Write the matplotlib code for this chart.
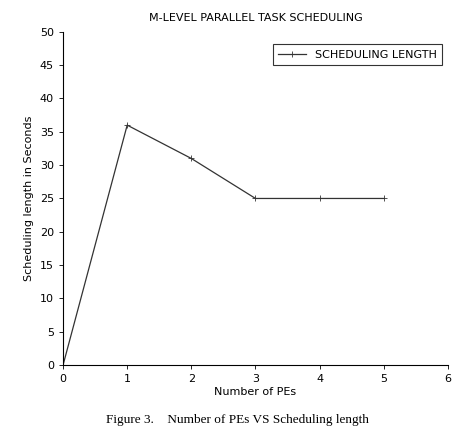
import matplotlib.pyplot as plt

pes = [0, 1, 2, 3, 4, 5]
sched_len = [0, 36, 31, 25, 25, 25]

fig = plt.figure(figsize=(4.74, 4.48), dpi=100)
ax = fig.add_axes([0.133, 0.185, 0.812, 0.744])
ax.plot(pes, sched_len, color="#333333", lw=0.9, marker="+", ms=4, mew=0.6,
        label="SCHEDULING LENGTH")
ax.set_xlim(0, 6)
ax.set_ylim(0, 50)
ax.set_xticks(range(0, 7))
ax.set_yticks(range(0, 51, 5))
for s in ("top", "right"):
    ax.spines[s].set_visible(False)
ax.tick_params(labelsize=8, length=3, width=0.6, direction="out")
ax.set_xlabel("Number of PEs", fontsize=8, labelpad=2)
ax.set_ylabel("Scheduling length in Seconds", fontsize=8)
ax.set_title("M-LEVEL PARALLEL TASK SCHEDULING", fontsize=8, pad=8)
leg = ax.legend(loc="upper right", fontsize=8, fancybox=False, framealpha=1,
                edgecolor="#333333", handlelength=2.5, borderpad=0.5,
                bbox_to_anchor=(1.0, 0.98))
leg.get_frame().set_linewidth(0.8)
fig.text(0.5, 0.055, "Figure 3.    Number of PEs VS Scheduling length",
         ha="center", fontsize=9.5, family="Liberation Serif")
fig.savefig("out.png", dpi=100)
